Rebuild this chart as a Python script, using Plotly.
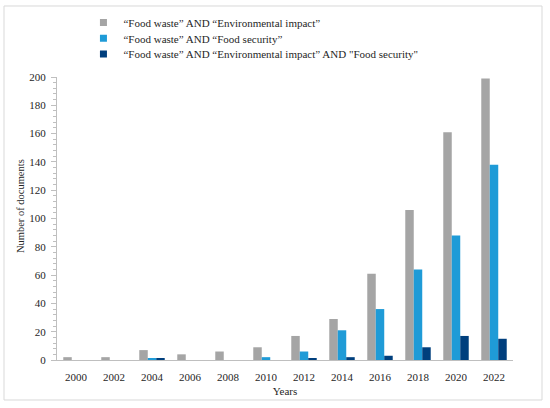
import plotly.graph_objects as go

years = ["2000", "2002", "2004", "2006", "2008", "2010", "2012", "2014", "2016", "2018", "2020", "2022"]
env_impact = [2, 2, 7, 4, 6, 9, 17, 29, 61, 106, 161, 199]
food_security = [0, 0, 1, 0, 0, 2, 6, 21, 36, 64, 88, 138]
both = [0, 0, 1, 0, 0, 0, 1, 2, 3, 9, 17, 15]

names = [
    "\u201cFood waste\u201d AND \u201cEnvironmental impact\u201d",
    "\u201cFood waste\u201d AND \u201cFood security\u201d",
    "\u201cFood waste\u201d AND \u201cEnvironmental impact\u201d AND \"Food security\"",
]
colors = ["#A5A5A5", "#1F9BD7", "#003F7D"]
series = [env_impact, food_security, both]
legend_ids = ["legend", "legend2", "legend3"]
legend_rows = [1.193, 1.137, 1.081]

FONT = "Liberation Serif"
TXT = "#262626"

fig = go.Figure()
for vals, name, col in zip(series, names, colors):
    fig.add_trace(go.Bar(x=years, y=vals, name=name, marker=dict(color=col, line=dict(width=0)),
                         showlegend=False))
for name, col, lid in zip(names, colors, legend_ids):
    fig.add_trace(go.Scatter(x=[None], y=[None], mode="markers", name=name, legend=lid,
                             marker=dict(symbol="square", size=7, color=col)))

leg_common = dict(x=0.058, xanchor="left", yanchor="middle", itemwidth=30,
                  font=dict(family=FONT, size=11, color=TXT), bgcolor="rgba(0,0,0,0)")

fig.update_layout(
    width=550, height=408,
    margin=dict(l=57, r=37, t=77, b=48, autoexpand=False),
    paper_bgcolor="white", plot_bgcolor="white",
    barmode="group", bargap=0.33, bargroupgap=0,
    font=dict(family=FONT, size=11, color=TXT),
    legend=dict(y=legend_rows[0], **leg_common),
    legend2=dict(y=legend_rows[1], **leg_common),
    legend3=dict(y=legend_rows[2], **leg_common),
    xaxis=dict(type="category", showline=True, linecolor="#BFBFBF", linewidth=1,
               ticks="", showgrid=False, ticklabelstandoff=7,
               title=dict(text="Years", standoff=5, font=dict(family=FONT, size=11, color=TXT))),
    yaxis=dict(range=[0, 200], dtick=20, showline=True, linecolor="#BFBFBF", linewidth=1,
               ticks="outside", ticklen=5, tickcolor="#BFBFBF", showgrid=False, zeroline=False,
               ticklabelstandoff=3,
               minor=dict(dtick=4, ticks="outside", ticklen=3, tickcolor="#BFBFBF")),
    annotations=[dict(text="Number of documents", textangle=-90, xref="paper", yref="paper",
                      x=-0.081, y=0.544, xanchor="center", yanchor="middle", showarrow=False,
                      font=dict(family=FONT, size=10.5, color=TXT))],
    shapes=[dict(type="rect", xref="paper", yref="paper",
                 x0=-0.1162, x1=1.0636, y0=-0.1413, y1=1.2509,
                 line=dict(color="#D9D9D9", width=1), fillcolor="rgba(0,0,0,0)", layer="below")],
)

fig.write_html("out.html", config={"displayModeBar": False},
               post_script="document.body.style.margin='0';document.body.style.overflow='hidden';")
